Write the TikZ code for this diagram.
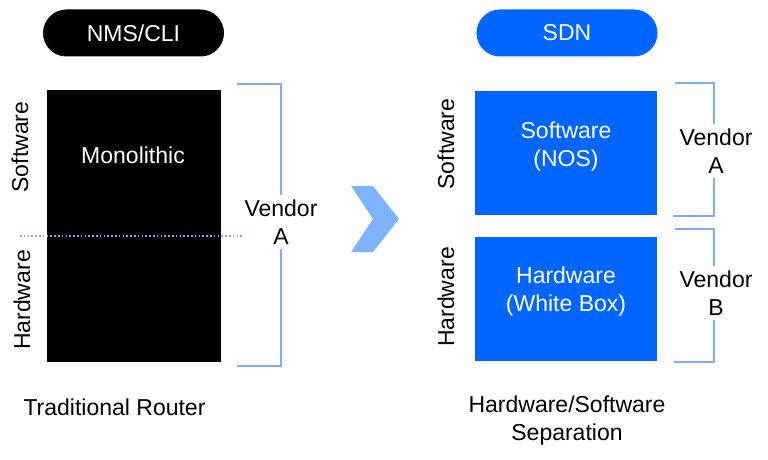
\documentclass[tikz,border=0pt]{standalone}
\usepackage{fontspec}
\setmainfont{Liberation Sans}
\usetikzlibrary{positioning, calc}
\definecolor{sdnblue}{HTML}{0066FF}
\definecolor{bracketblue}{HTML}{7FAAFF}
\definecolor{chevblue}{HTML}{80B3FF}

\begin{document}
\begin{tikzpicture}[x=1pt, y=-1pt, font=\fontsize{23}{28}\selectfont,
  pill/.style={rounded corners=23.5pt, minimum width=181pt, minimum height=47pt, text=white, inner sep=0pt},
  block/.style={inner sep=0pt, minimum width=182pt, minimum height=124pt},
  side/.style={rotate=90, inner sep=0pt},
  vendor/.style={align=center, fill=white, inner xsep=1pt, inner ysep=5pt},
  bracket/.style={bracketblue, line width=1.3pt}]
  \useasboundingbox (0,0) rectangle (768,460);

  % Top labels
  \node[pill, fill=black] (nms) at (133.5,33) {NMS/CLI};
  \node[pill, fill=sdnblue] (sdn) at (567,33) {SDN};

  % Traditional router
  \node[fill=black, inner sep=0pt, minimum width=174pt, minimum height=272pt] (router) at (134,226) {};
  \node[text=white] (mono) at (133,155) {Monolithic};
  \draw[bracketblue, line width=1.6pt, dash pattern=on 1.6pt off 2.2pt] (20,236) -- (244,236);
  \node[side] (swleft) at (20,147) {Software};
  \node[side] (hwleft) at (22,300) {Hardware};

  \draw[bracket] (237,84) -| (281,366) -- (237,366);
  \node[vendor] (vendA) at (281,222) {Vendor\\A};

  \node[anchor=west] (trad) at (20,407) {Traditional Router};

  % Chevron
  \fill[chevblue] (351,186) -- (373,186) -- (399,219) -- (373,252) -- (351,252) -- (373,219) -- cycle;

  % SDN
  \node[block, fill=sdnblue] (nos) at (566,153) {};
  \node[text=white, align=center] (noslbl) at (566,147) {Software\\(NOS)};
  \node[block, fill=sdnblue] (wbox) at (566,299) {};
  \node[text=white, align=center] (wboxlbl) at (566,292) {Hardware\\(White Box)};
  \node[side] (swright) at (446,144) {Software};
  \node[side] (hwright) at (446,297) {Hardware};

  \draw[bracket] (675,83) -| (714,216) -- (673,216);
  \node[vendor] (vendSA) at (716,151) {Vendor\\A};
  \draw[bracket] (675,229) -| (714,362) -- (674,362);
  \node[vendor] (vendSB) at (716,293) {Vendor\\B};

  \node[align=center] (sep) at (567,421) {Hardware/Software\\Separation};
\end{tikzpicture}
\end{document}
